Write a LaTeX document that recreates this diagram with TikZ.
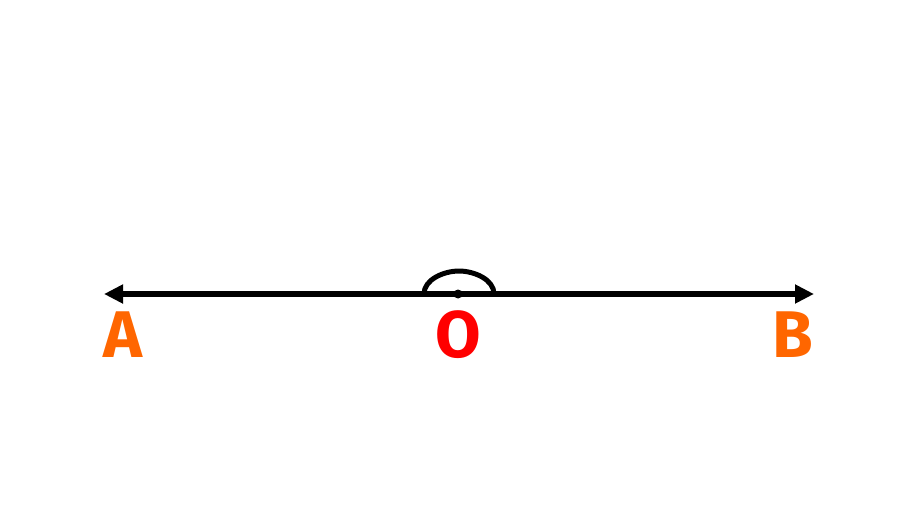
\documentclass[tikz,border=0pt]{standalone}
\usepackage{fontspec}
\newfontfamily\lblfont{Fira Sans}
\usetikzlibrary{arrows.meta}
\definecolor{ptorange}{HTML}{FF6600}
\definecolor{ptred}{HTML}{FF0000}
\tikzset{
  ln/.style={line width=6pt, black, line cap=round, line join=round},
  lbl/.style={anchor=base, inner sep=0pt, font=\lblfont\bfseries\fontsize{66}{66}\selectfont},
}
\begin{document}
\begin{tikzpicture}[x=1pt,y=-1pt]
\useasboundingbox (0,0) rectangle (915,516);
\coordinate (L) at (104,294);
\coordinate (R) at (814,294);
\coordinate (O) at (458,294);
\coordinate (arcL) at (424,294);
\coordinate (arcT) at (459,271);
\coordinate (arcR) at (494,294);
\draw[ln, {Triangle[length=19pt,width=18pt]}-{Triangle[length=19pt,width=18pt]}] (L) -- (R);
\draw[ln, line width=5pt, line cap=butt] (arcL) to[out=90,in=180,looseness=0.9] (arcT) to[out=0,in=90,looseness=0.9] (arcR);
\fill[black] (O) circle (4.5pt);
\node[lbl, text=ptorange] (A) at (123,357) {A};
\node[lbl, text=ptred] (Olbl) at (458,357) {O};
\node[lbl, text=ptorange] (B) at (793,357) {B};
\end{tikzpicture}
\end{document}
